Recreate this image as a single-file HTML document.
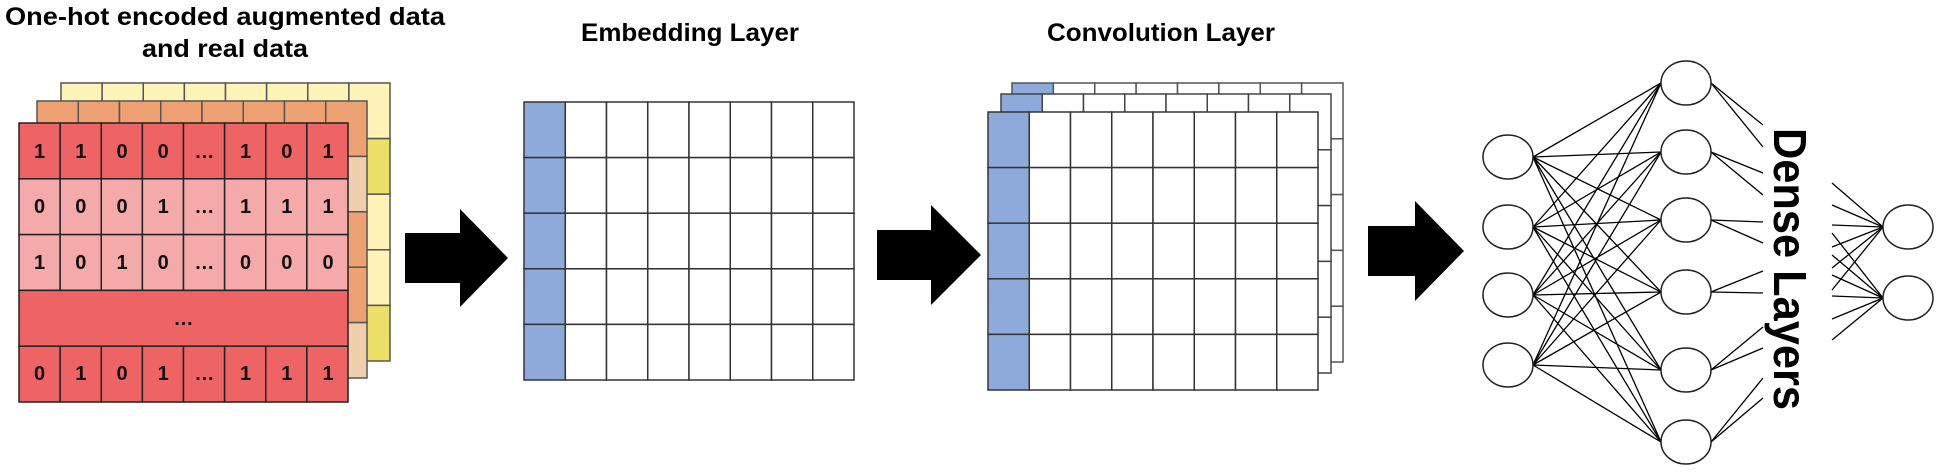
<!DOCTYPE html>
<html><head><meta charset="utf-8"><style>
html,body{margin:0;padding:0;background:#fff;width:1945px;height:474px;overflow:hidden}
svg{display:block}
text{font-family:"Liberation Sans",sans-serif}
</style></head><body>
<svg id="s" width="1945" height="474" viewBox="0 0 1945 474" xmlns="http://www.w3.org/2000/svg">
<g id="shapes"></g>
<g font-weight="bold" fill="#000" font-size="25" text-anchor="middle">
<text x="225" y="25" textLength="440" lengthAdjust="spacingAndGlyphs">One-hot encoded augmented data</text>
<text x="225" y="57" textLength="166" lengthAdjust="spacingAndGlyphs">and real data</text>
<text x="690" y="41" textLength="218" lengthAdjust="spacingAndGlyphs">Embedding Layer</text>
<text x="1161" y="41" textLength="228" lengthAdjust="spacingAndGlyphs">Convolution Layer</text>
<text transform="translate(1774,269) rotate(90)" x="0" y="0" font-size="46" textLength="282" lengthAdjust="spacingAndGlyphs">Dense Layers</text>
</g>
<g font-size="20" font-weight="bold" text-anchor="middle" fill="#111">
<text x="39.6" y="158">1</text><text x="80.8" y="158">1</text><text x="122" y="158">0</text><text x="163.2" y="158">0</text><text x="204.4" y="158">…</text><text x="245.6" y="158">1</text><text x="286.8" y="158">0</text><text x="328" y="158">1</text>
<text x="39.6" y="213">0</text><text x="80.8" y="213">0</text><text x="122" y="213">0</text><text x="163.2" y="213">1</text><text x="204.4" y="213">…</text><text x="245.6" y="213">1</text><text x="286.8" y="213">1</text><text x="328" y="213">1</text>
<text x="39.6" y="269">1</text><text x="80.8" y="269">0</text><text x="122" y="269">1</text><text x="163.2" y="269">0</text><text x="204.4" y="269">…</text><text x="245.6" y="269">0</text><text x="286.8" y="269">0</text><text x="328" y="269">0</text>
<text x="183.5" y="325">…</text>
<text x="39.6" y="380">0</text><text x="80.8" y="380">1</text><text x="122" y="380">0</text><text x="163.2" y="380">1</text><text x="204.4" y="380">…</text><text x="245.6" y="380">1</text><text x="286.8" y="380">1</text><text x="328" y="380">1</text>
</g>
</svg>
<script>
var g=document.getElementById('shapes'),NS='http://www.w3.org/2000/svg';
function el(n,a){var e=document.createElementNS(NS,n);for(var k in a)e.setAttribute(k,a[k]);g.appendChild(e);return e;}
function grid(x,y,w,h,rowCols,firstCol,stroke){
 var cw=w/8,rh=h/5;
 for(var r=0;r<5;r++)for(var c=0;c<8;c++){
  var f=(c==0&&firstCol)?firstCol:rowCols[r];
  el('rect',{x:x+c*cw,y:y+r*rh,width:cw,height:rh,fill:f,stroke:stroke||'#333','stroke-width':1.5});
 }
}
grid(61,83,329,278,['#fff4b8','#ede066','#fff4b8','#fff4b8','#ede066'],null,'#555');
grid(37,101,330,277,['#eea274','#efcfab','#eea274','#eea274','#efcfab'],null,'#555');
(function(){var x=19,y=123,w=329,h=279,cw=w/8,rh=h/5,cols=['#ee6464','#f4a9aa','#f4a9aa','#ee6464','#ee6464'];
for(var r=0;r<5;r++){ if(r==3){el('rect',{x:x,y:y+r*rh,width:w,height:rh,fill:cols[r],stroke:'#222','stroke-width':1.5});continue;}
 for(var c=0;c<8;c++)el('rect',{x:x+c*cw,y:y+r*rh,width:cw,height:rh,fill:cols[r],stroke:'#222','stroke-width':1.5});}})();
function arrow(x0,xh,x1,cy,bh,hh){el('polygon',{points:[x0,cy-bh,xh,cy-bh,xh,cy-hh,x1,cy,xh,cy+hh,xh,cy+bh,x0,cy+bh].join(' '),fill:'#000'});}
arrow(405,460,508,258,25,49);
arrow(877,931,981,255,25,50);
arrow(1368,1415,1464,251,25,50);
var W=['#fff','#fff','#fff','#fff','#fff'];
grid(524,102,330,278,W,'#8eaadb','#333');
grid(1012,83,331,279,W,'#8eaadb','#555');
grid(1001,94,330,279,W,'#8eaadb','#444');
grid(988,112,330,278,W,'#8eaadb','#333');
var inp=[157,227,295,365],hid=[83,152,220,292,370,442],out=[227,298];
inp.forEach(function(a){hid.forEach(function(b){el('line',{x1:1533,y1:a,x2:1661,y2:b,stroke:'#000','stroke-width':1.3});});});
var stubs=[[125,147],[173,195],[222,243],[271,293],[327,348],[378,398]];
hid.forEach(function(b,i){stubs[i].forEach(function(t){el('line',{x1:1711,y1:b,x2:1763,y2:t,stroke:'#000','stroke-width':1.3});});});
[183,205,225,247,268,290].forEach(function(t){el('line',{x1:1832,y1:t,x2:1883,y2:227,stroke:'#000','stroke-width':1.3});});
[233,255,275,296,319,340].forEach(function(t){el('line',{x1:1832,y1:t,x2:1883,y2:298,stroke:'#000','stroke-width':1.3});});
function node(x,y){el('ellipse',{cx:x,cy:y,rx:25,ry:22,fill:'#fff',stroke:'#222','stroke-width':1.5});}
inp.forEach(function(y){node(1508,y);});hid.forEach(function(y){node(1686,y);});out.forEach(function(y){node(1908,y);});
</script>
</body></html>
